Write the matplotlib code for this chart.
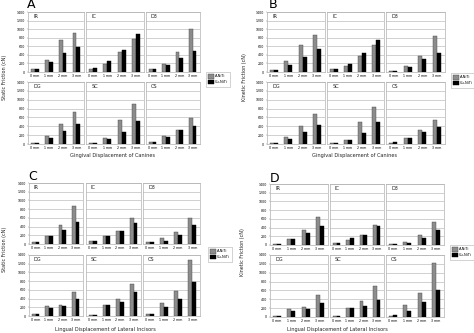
import matplotlib
matplotlib.use('Agg')
import matplotlib.pyplot as plt
import numpy as np

W, H = 474, 333

categories = ['0 mm', '1 mm', '2 mm', '3 mm']
groups = ['IR', 'IC', 'D3', 'DG', 'SC', 'CS']
series = ['A-NiTi', 'Cu-NiTi']
yticks = [0, 200, 400, 600, 800, 1000, 1200, 1400]

# one row per group (IR, IC, D3, DG, SC, CS), one value per displacement
a_aniti = [[60, 285, 750, 915], [60, 190, 460, 770], [60, 190, 470, 1010],
           [30, 190, 455, 730], [25, 125, 540, 900], [40, 170, 320, 580]]
a_cuniti = [[60, 230, 440, 590], [90, 250, 515, 890], [60, 170, 320, 490],
            [25, 140, 300, 460], [25, 105, 270, 530], [55, 165, 310, 415]]

b_aniti = [[40, 250, 630, 855], [60, 150, 380, 630], [30, 140, 380, 850],
           [20, 160, 410, 675], [15, 95, 490, 825], [30, 125, 305, 535]]
b_cuniti = [[40, 155, 350, 535], [60, 195, 445, 755], [25, 115, 305, 445],
            [15, 110, 265, 420], [15, 95, 250, 490], [35, 125, 280, 390]]

c_aniti = [[40, 175, 430, 870], [70, 175, 300, 600], [45, 135, 280, 600],
           [40, 225, 250, 560], [25, 250, 400, 745], [45, 290, 585, 1285]]
c_cuniti = [[50, 175, 320, 500], [80, 180, 290, 490], [50, 70, 210, 425],
            [35, 175, 230, 400], [30, 250, 330, 555], [50, 200, 390, 775]]

d_aniti = [[30, 130, 345, 635], [50, 115, 230, 455], [30, 70, 230, 535],
           [20, 170, 215, 500], [20, 200, 355, 695], [25, 270, 550, 1220]]
d_cuniti = [[30, 130, 275, 425], [55, 160, 240, 445], [30, 45, 170, 355],
            [20, 125, 185, 325], [20, 200, 245, 395], [40, 130, 330, 610]]

GRAY = '#8c8c8c'
BW = 0.28


def px(x0, y0, x1, y1):
    # pixel box (top-left origin) -> figure fraction rect
    return [x0 / W, 1 - y1 / H, (x1 - x0) / W, (y1 - y0) / H]


def panel(fig, letter, cols, rows, gray_vals, black_vals, ylabel, xlabel,
          letter_xy, ylab_xy, xlab_xy, leg_xy):
    handles = None
    for i, g in enumerate(groups):
        r, c = divmod(i, 3)
        ax = fig.add_axes(px(cols[c][0], rows[r][0], cols[c][1], rows[r][1]))
        x = np.arange(len(categories))
        b1 = ax.bar(x - BW / 2, gray_vals[i], BW, color=GRAY,
                    edgecolor='#444444', linewidth=0.3, zorder=3)
        b2 = ax.bar(x + BW / 2, black_vals[i], BW, color='black',
                    edgecolor='black', linewidth=0.3, zorder=3)
        handles = [b1, b2]
        ax.set_xlim(-0.5, 3.55)
        ax.set_ylim(0, 1400)
        ax.set_yticks(yticks)
        ax.set_yticklabels([str(v) for v in yticks], fontsize=2.3)
        ax.yaxis.grid(True, color='#bdbdbd', linewidth=0.5)
        ax.set_axisbelow(True)
        ax.set_xticks(x)
        ax.set_xticklabels(categories, fontsize=2.3)
        ax.tick_params(axis='x', length=0, pad=1.2)
        ax.tick_params(axis='y', length=1, width=0.3, pad=1, color='#777777')
        if c != 0:
            ax.tick_params(axis='y', labelleft=False, left=False)
        for s in ax.spines.values():
            s.set_color('#b0b0b0')
            s.set_linewidth(0.5)
        ax.text(0.09, 0.96, g, transform=ax.transAxes, fontsize=3.6,
                ha='left', va='top', color='#222222')

    fig.text(letter_xy[0] / W, 1 - letter_xy[1] / H, letter, fontsize=9,
             ha='center', va='center')
    fig.text(ylab_xy[0] / W, 1 - ylab_xy[1] / H, ylabel, fontsize=3.5,
             rotation=90, ha='center', va='center', color='#222222')
    fig.text(xlab_xy[0] / W, 1 - xlab_xy[1] / H, xlabel, fontsize=3.6,
             ha='center', va='center', color='#222222')
    fig.legend(handles, series, loc='upper left',
               bbox_to_anchor=(leg_xy[0] / W, 1 - leg_xy[1] / H),
               fontsize=2.6, frameon=True, fancybox=False,
               edgecolor='#b0b0b0', framealpha=1, borderpad=0.6,
               handlelength=1.6, handleheight=1.6, handletextpad=0.4,
               labelspacing=0.3).get_frame().set_linewidth(0.4)


fig = plt.figure(figsize=(W / 100, H / 100), dpi=100)
fig.patch.set_facecolor('white')

panel(fig, 'A',
      [(28, 84), (86, 144), (146, 200)], [(12, 72), (82, 144)],
      a_aniti, a_cuniti, 'Static Friction (cN)',
      'Gingival Displacement of Canines',
      (31, 5), (5, 77), (112, 155), (204, 70))

panel(fig, 'B',
      [(267, 325), (327, 384), (386, 445)], [(12, 72), (82, 144)],
      b_aniti, b_cuniti, 'Kinetic Friction (cN)',
      'Gingival Displacement of Canines',
      (273, 5), (244, 77), (355, 155), (449, 71))

panel(fig, 'C',
      [(29, 83), (86, 141), (143, 200)], [(183, 244), (255, 316)],
      c_aniti, c_cuniti, 'Static Friction (cN)',
      'Lingual Displacement of Lateral Incisors',
      (33, 176), (5, 249), (105, 329), (206, 245))

panel(fig, 'D',
      [(270, 328), (330, 384), (386, 444)], [(184, 245), (255, 317)],
      d_aniti, d_cuniti, 'Kinetic Friction (cN)',
      'Lingual Displacement of Lateral Incisors',
      (275, 178), (243, 252), (337, 330), (448, 243))

fig.savefig('out.png', dpi=100)
